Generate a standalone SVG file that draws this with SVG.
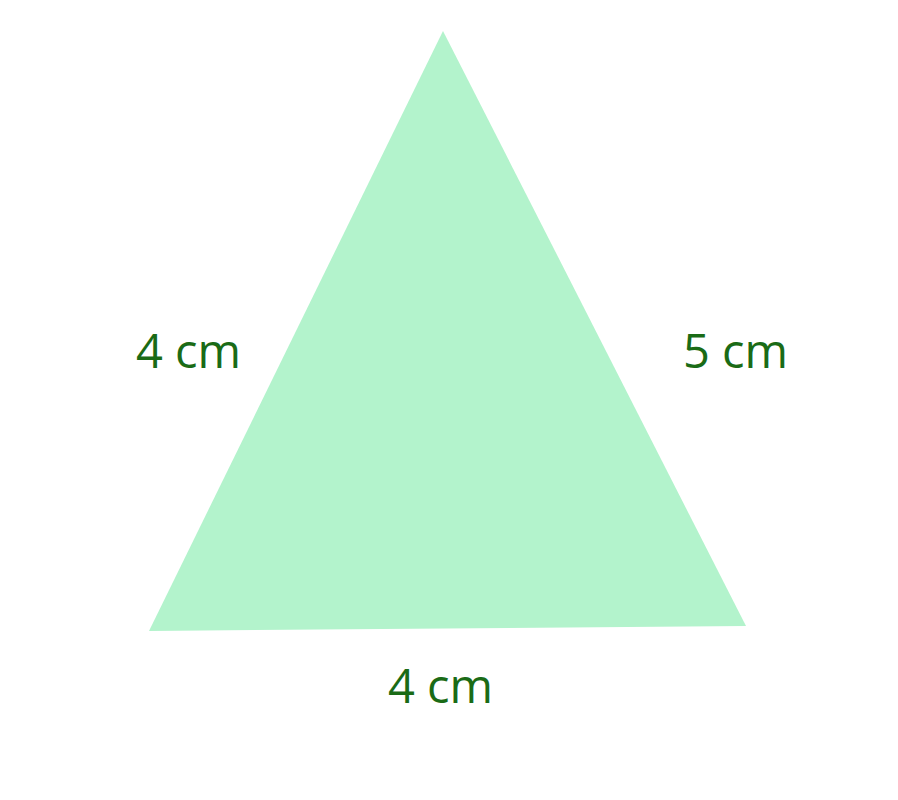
<svg xmlns="http://www.w3.org/2000/svg" width="898" height="800" viewBox="0 0 898 800">
<style>
.lbl{font-family:"Open Sans","Noto Sans",sans-serif;font-size:47px;fill:#1a6b16}
</style>
<rect width="898" height="800" fill="#ffffff"/>
<g id="triangle">
<polygon points="443,31 149,631 746,626" fill="#b3f3cc"/>
</g>
<g id="labels">
<text class="lbl" x="136" y="368">4 cm</text>
<text class="lbl" x="683" y="368">5 cm</text>
<text class="lbl" x="388" y="703">4 cm</text>
</g>
</svg>
